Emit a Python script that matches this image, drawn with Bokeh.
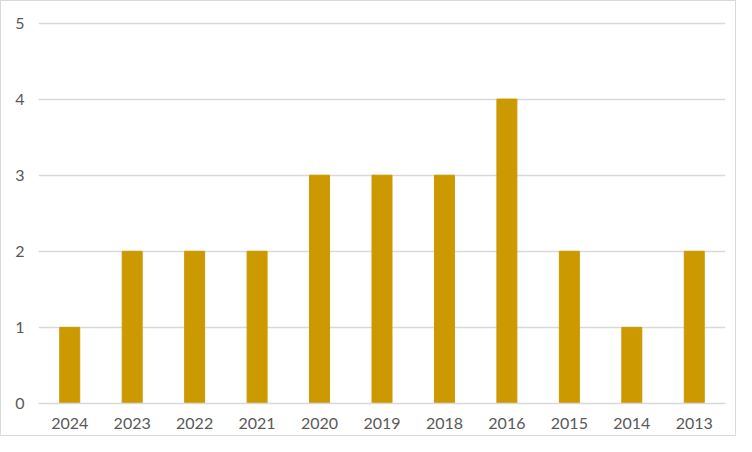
from bokeh.plotting import figure
from bokeh.models import FactorRange, Range1d, FixedTicker
from bokeh.embed import file_html
from bokeh.resources import INLINE

years = ["2024", "2023", "2022", "2021", "2020", "2019", "2018", "2016", "2015", "2014", "2013"]
counts = [1, 2, 2, 2, 3, 3, 3, 4, 2, 1, 2]
y_ticks = [0, 1, 2, 3, 4, 5]

p = figure(width=736, height=436, x_range=FactorRange(*years), y_range=Range1d(0, 5.02),
           output_backend="svg", toolbar_location=None,
           min_border_left=37, min_border_right=12, min_border_top=20, min_border_bottom=34)
p.vbar(x=years, top=counts, width=0.32, color="#CC9900")

p.outline_line_color = None
p.xgrid.grid_line_color = None
p.ygrid.grid_line_color = "#D9D9D9"
p.ygrid.grid_line_width = 1.3
p.yaxis.ticker = FixedTicker(ticks=y_ticks)
p.yaxis.axis_line_color = None
p.yaxis.major_tick_line_color = None
p.yaxis.minor_tick_line_color = None
p.yaxis.major_tick_out = 0
p.yaxis.major_label_standoff = 14
p.xaxis.axis_line_color = "#D9D9D9"
p.xaxis.axis_line_width = 1.3
p.xaxis.major_tick_line_color = None
p.xaxis.major_tick_out = 0
p.xaxis.major_label_standoff = 14
for ax in (p.xaxis[0], p.yaxis[0]):
    ax.major_label_text_font = "Lato"
    ax.major_label_text_font_size = "16px"
    ax.major_label_text_color = "#595959"
p.x_range.range_padding = 0
p.styles = {"border": "1.5px solid #D9D9D9"}

open("out.html", "w").write(file_html(p, INLINE))
